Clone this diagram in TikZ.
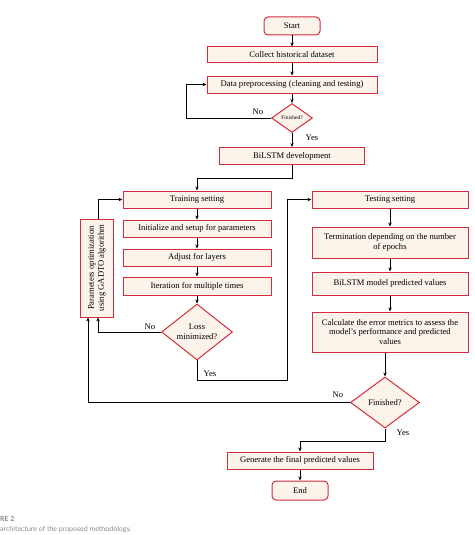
\documentclass[tikz,border=0pt]{standalone}
\usepackage{fontspec}
\setmainfont{Liberation Serif}
\newfontfamily\capfont{Lato}
\usetikzlibrary{shapes.geometric,arrows.meta}
\definecolor{boxred}{HTML}{D42C3C}
\definecolor{boxfill}{HTML}{FCF3EA}
\definecolor{capgray}{HTML}{8A8A8A}
\begin{document}
\begin{tikzpicture}[x=1pt,y=-1pt,
  box/.style={draw=boxred,fill=boxfill,line width=1pt,inner sep=1pt,align=center,
              font=\fontsize{8.6}{9.6}\selectfont},
  term/.style={box,rounded corners=4pt},
  dec/.style={draw=boxred,fill=boxfill,line width=1pt,diamond,inner sep=0pt,align=center,
              font=\fontsize{8.6}{9.6}\selectfont},
  arr/.style={-{Stealth[length=4pt,width=3.4pt]},line width=0.9pt},
  lab/.style={font=\fontsize{8.6}{9.6}\selectfont,inner sep=0pt},
  captext/.style={font=\capfont\fontsize{7}{8}\selectfont,text=capgray,anchor=west,inner sep=0pt}]
\useasboundingbox (0,0) rectangle (474,535);
% left/main column
\node[term,minimum width=56,minimum height=18] (start) at (292,26) {Start};
\node[box,minimum width=170,minimum height=16] (collect) at (292,55) {Collect historical dataset};
\node[box,minimum width=170,minimum height=17] (prep) at (292,84.5) {Data preprocessing (cleaning and testing)};
\node[dec,minimum width=41,minimum height=29,font=\fontsize{5.5}{6.5}\selectfont] (fin1) at (292,118) {Finished?};
\node[box,minimum width=145,minimum height=17] (bil) at (292,156) {BiLSTM development};
\node[box,minimum width=148,minimum height=17] (train) at (197,199.5) {Training setting};
\node[box,minimum width=148,minimum height=17] (init) at (197,228.5) {Initialize and setup for parameters};
\node[box,minimum width=148,minimum height=17] (adj) at (197,257.5) {Adjust for layers};
\node[box,minimum width=148,minimum height=18] (iter) at (197,286) {Iteration for multiple times};
\node[dec,minimum width=71,minimum height=52] (loss) at (197,332) {Loss\\minimized?};
\node[box,minimum width=33,minimum height=98,inner sep=0pt] (param) at (97,268) {};
\node[rotate=90,align=center,inner sep=0pt,font=\fontsize{8.6}{10}\selectfont] (paramtext) at (param.center)
  {Parameters optimization\\using GADTO algorithm};
% right column
\node[box,minimum width=156,minimum height=17] (test) at (390,199.5) {Testing setting};
\node[box,minimum width=156,minimum height=31] (termn) at (390,242.5) {Termination depending on the number\\of epochs};
\node[box,minimum width=156,minimum height=23] (pred) at (390,283.5) {BiLSTM model predicted values};
\node[box,minimum width=156,minimum height=40] (calc) at (390,332) {Calculate the error metrics to assess the\\model's performance and predicted\\values};
\node[dec,minimum width=69,minimum height=51] (fin2) at (385,402.5) {Finished?};
\node[box,minimum width=146,minimum height=17] (gen) at (300,460.5) {Generate the final predicted values};
\node[term,minimum width=56,minimum height=19] (end) at (300,490.5) {End};
% corner coordinates
\coordinate (c1) at (186,118);
\coordinate (c2) at (287,380);
% connectors
\draw[arr] (start) -- (collect);
\draw[arr] (collect) -- (prep);
\draw[arr] (prep) -- (fin1);
\draw[arr] (fin1.west) -- (c1) |- (prep.west);
\draw[arr] (fin1) -- (bil);
\draw[arr] (bil.south) -- ++(0,13) -| (train.north);
\draw[arr] (train) -- (init);
\draw[arr] (init) -- (adj);
\draw[arr] (adj) -- (iter);
\draw[arr] (iter) -- (loss);
\draw[arr] (loss.west) -| ([xshift=1]param.south);
\draw[arr] ([xshift=1]param.north) |- (train.west);
\draw[arr] (loss.south) |- (c2) |- (test.west);
\draw[arr] (test) -- (termn);
\draw[arr] (termn) -- (pred);
\draw[arr] (pred) -- (calc);
\draw[arr] (calc.south -| fin2.north) -- (fin2.north);
\draw[arr] (fin2.west) -| ([xshift=-9]param.south);
\draw[arr] (fin2.south) -- ++(0,13) -| (gen.north);
\draw[arr] (gen) -- (end);
% labels
\node[lab] (l1) at (258,112) {No};
\node[lab] (l2) at (312,138) {Yes};
\node[lab] (l3) at (150,327) {No};
\node[lab] (l4) at (210,374) {Yes};
\node[lab] (l5) at (338,395) {No};
\node[lab] (l6) at (403,433) {Yes};
% caption fragment
\node[captext,font=\capfont\bfseries\fontsize{7}{8}\selectfont] (cap1) at (0,519) {RE 2};
\node[captext] (cap2) at (0,529.5) {architecture of the proposed methodology.};
\end{tikzpicture}
\end{document}
